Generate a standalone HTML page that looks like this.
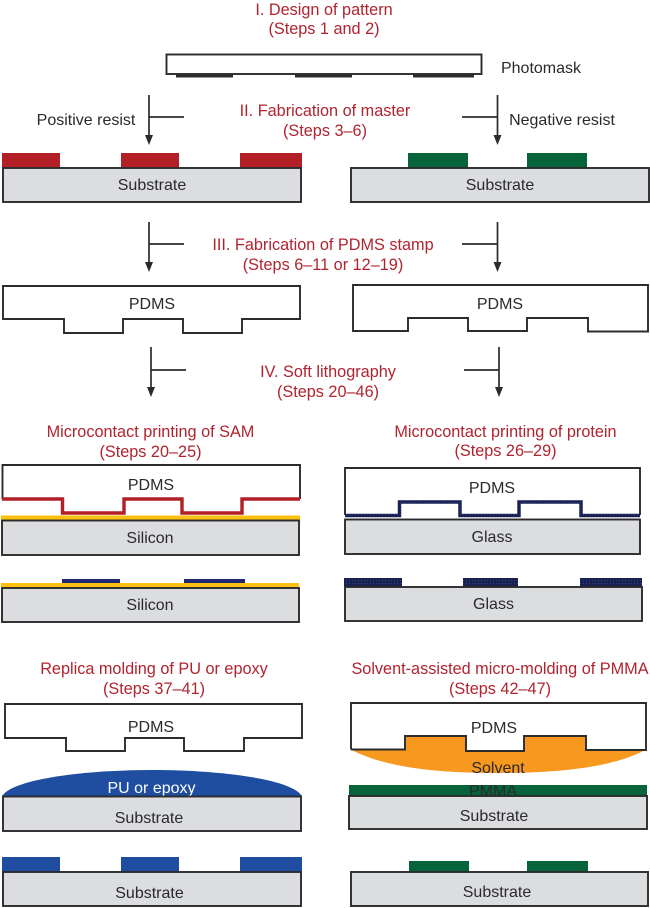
<!DOCTYPE html>
<html>
<head>
<meta charset="utf-8">
<style>
html,body{margin:0;padding:0;background:#fff;width:650px;height:908px;overflow:hidden}
svg{display:block;filter:blur(.3px)}
text{font-family:"Liberation Sans",sans-serif;font-size:16px;text-anchor:middle;fill:#2a2a2c}
.r{fill:#b0242f;font-size:16.25px}
.s{fill:#dcdddf;stroke:#2b2b2d;stroke-width:1.9}
.p{fill:#fff;stroke:#2b2b2d;stroke-width:1.9}
.a{fill:none;stroke:#2b2b2d;stroke-width:1.7}
.h{fill:#2b2b2d}
</style>
</head>
<body>
<svg width="650" height="908" viewBox="0 0 650 908" xmlns="http://www.w3.org/2000/svg">
<defs>
<pattern id="d" width="3" height="3" patternUnits="userSpaceOnUse">
<rect width="3" height="3" fill="#18204f"/>
<circle cx="1.5" cy="1.5" r=".6" fill="#2f3f86"/>
</pattern>
<g id="ar"><path class="a" d="M0,0V42"/><path class="h" d="M-4,40H4L0,50Z"/></g>
</defs>

<text class="r" x="324" y="15">I. Design of pattern</text>
<text class="r" x="324" y="34">(Steps 1 and 2)</text>
<rect class="p" x="166.5" y="54.5" width="315" height="19.5"/>
<rect class="h" x="176" y="74" width="57" height="3.5"/>
<rect class="h" x="295" y="74" width="57" height="3.5"/>
<rect class="h" x="413" y="74" width="61" height="3.5"/>
<text x="541" y="73">Photomask</text>

<use href="#ar" x="149" y="95"/><path class="a" d="M149,117H184"/>
<use href="#ar" x="497.5" y="95"/><path class="a" d="M462,117H497"/>
<text x="86" y="125">Positive resist</text>
<text x="562" y="125">Negative resist</text>
<text class="r" x="325" y="116">II. Fabrication of master</text>
<text class="r" x="325" y="136">(Steps 3–6)</text>

<g fill="#b21f27"><rect x="2" y="153" width="58" height="15"/><rect x="121" y="153" width="58" height="15"/><rect x="240" y="153" width="62" height="15"/></g>
<rect class="s" x="3" y="168" width="298" height="34"/>
<text x="152" y="190">Substrate</text>
<g fill="#07643a"><rect x="408" y="153" width="60" height="15"/><rect x="527" y="153" width="60" height="15"/></g>
<rect class="s" x="351" y="168" width="298" height="34"/>
<text x="500" y="190">Substrate</text>

<use href="#ar" x="149" y="222"/><path class="a" d="M149,244H184"/>
<use href="#ar" x="497.5" y="222"/><path class="a" d="M462,244H497"/>
<text class="r" x="323" y="250">III. Fabrication of PDMS stamp</text>
<text class="r" x="323" y="270">(Steps 6–11 or 12–19)</text>

<path class="p" d="M3,286H300V319H242V333H183V319H123V333H64V319H3Z"/>
<text x="152" y="309">PDMS</text>
<path class="p" d="M353,285H648V331.500H588V318H527V331H468V318H408V331H353Z"/>
<text x="500" y="309">PDMS</text>

<use href="#ar" x="151" y="347"/><path class="a" d="M151,370H186"/>
<use href="#ar" x="499" y="347"/><path class="a" d="M464,370H499"/>
<text class="r" x="328" y="377">IV. Soft lithography</text>
<text class="r" x="328" y="397">(Steps 20–46)</text>

<text class="r" x="150.500" y="437">Microcontact printing of SAM</text>
<text class="r" x="150.500" y="457">(Steps 20–25)</text>
<text class="r" x="505.500" y="437">Microcontact printing of protein</text>
<text class="r" x="505.500" y="456">(Steps 26–29)</text>

<!-- SAM -->
<path class="p" d="M2.500,499V465H300V499"/>
<path fill="none" stroke="#b21f27" stroke-width="3.400" d="M2,499H62.500V513H124V499H182V513H242V499H300"/>
<rect x="1" y="515.500" width="299" height="5" fill="#fdc010"/>
<rect class="s" x="2" y="520.500" width="297" height="34.500"/>
<text x="151" y="490">PDMS</text>
<text x="150" y="543">Silicon</text>
<rect x="62" y="579" width="58" height="4.500" fill="#20296f"/>
<rect x="184" y="579" width="61" height="4.500" fill="#20296f"/>
<rect x="1" y="583" width="298" height="5" fill="#fdc010"/>
<rect class="s" x="2" y="588" width="297" height="34"/>
<text x="150" y="610">Silicon</text>

<!-- Protein -->
<path class="p" d="M345,515V468H640V515"/>
<path fill="none" stroke="url(#d)" stroke-width="3.500" d="M345,515.500H399.500V502H460V515.500H519V502H581V515.500H640"/>
<rect class="s" x="345" y="519.500" width="295" height="34.500"/>
<text x="492" y="493">PDMS</text>
<text x="492" y="542">Glass</text>
<g fill="url(#d)"><rect x="344" y="578" width="58" height="9"/><rect x="463" y="578" width="55" height="9"/><rect x="580" y="578" width="62" height="9"/></g>
<rect class="s" x="345" y="587" width="297" height="34"/>
<text x="493.500" y="609">Glass</text>

<text class="r" x="154" y="674">Replica molding of PU or epoxy</text>
<text class="r" x="154" y="694">(Steps 37–41)</text>
<text class="r" x="500" y="674">Solvent-assisted micro-molding of PMMA</text>
<text class="r" x="500" y="694">(Steps 42–47)</text>

<!-- Replica -->
<path class="p" d="M5,704H302V738H244V751H184V738H125V751H66V738H5Z"/>
<text x="151" y="732">PDMS</text>
<path fill="#1f4ea1" d="M2,796.500C10,780 80,770 152,770C224,770 294,780 302,796.500Z"/>
<text x="151.500" y="793" style="fill:#fff">PU or epoxy</text>
<rect class="s" x="3" y="796.500" width="298" height="34.500"/>
<text x="149" y="823">Substrate</text>
<g fill="#1f4ea1"><rect x="2" y="857" width="58" height="15"/><rect x="121" y="857" width="58" height="15"/><rect x="240" y="857" width="62" height="15"/></g>
<rect class="s" x="3" y="872" width="298" height="34"/>
<text x="149.500" y="898">Substrate</text>

<!-- Solvent -->
<path fill="#f7981f" d="M351,749.500C385,768 440,773 498,773C556,773 612,768 645,750L586,736H405Z"/>
<path fill="#fff" d="M466,736H524V751H466Z"/>
<path fill="#fff" d="M352,704H645V735.500H352Z"/>
<path fill="#fff" d="M352,735H404.500V749H352ZM586.500,735H645V749.500H586.500ZM466.500,735H523.500V750H466.500Z"/>
<path class="p" style="fill:none" d="M351,749.500V703H646V750H586V736H524V751H466V736H405V749.500H351"/>
<text x="494" y="733">PDMS</text>
<text x="498" y="773">Solvent</text>
<rect x="349" y="785" width="298" height="11.500" fill="#07643a"/>
<text x="493" y="796">PMMA</text>
<rect class="s" x="349" y="796" width="298" height="33"/>
<text x="494" y="821">Substrate</text>
<g fill="#07643a"><rect x="409" y="861" width="60" height="11"/><rect x="527" y="861" width="61" height="11"/></g>
<rect class="s" x="351" y="872" width="297" height="34"/>
<text x="497" y="897">Substrate</text>
</svg>
</body>
</html>
